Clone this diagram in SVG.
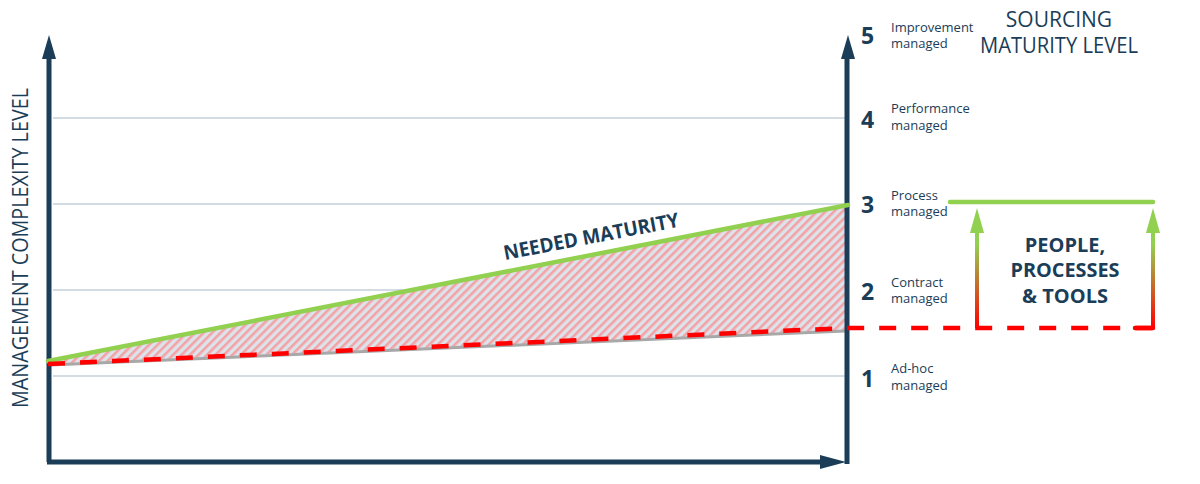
<svg xmlns="http://www.w3.org/2000/svg" width="1200" height="484" viewBox="0 0 1200 484">
<style>
.ax{stroke:#1b3d57;stroke-width:5;fill:none}
.ah{fill:#1b3d57}
.grid{stroke:#a9b9c7;stroke-width:1.2}
.t{font-family:"Open Sans","Liberation Sans",sans-serif;fill:#1b3d57}
.num{font-size:23px;font-weight:bold}
.lbl{font-size:13px}
.big{font-size:21px}
.bold{font-size:20px;font-weight:bold}
</style>
<defs>
<pattern id="hatch" width="6" height="6" patternUnits="userSpaceOnUse" patternTransform="rotate(45)">
<rect width="6" height="6" fill="#dde3ea"/>
<rect width="2.6" height="6" fill="#f3a2a6"/>
</pattern>
<linearGradient id="grad" gradientUnits="userSpaceOnUse" x1="0" y1="328" x2="0" y2="245">
<stop offset="0" stop-color="#ff0000"/>
<stop offset="1" stop-color="#92d050"/>
</linearGradient>
</defs>
<rect width="1200" height="484" fill="#ffffff"/>
<g id="grid">
<line class="grid" x1="53" y1="118" x2="845" y2="118"/>
<line class="grid" x1="53" y1="204" x2="845" y2="204"/>
<line class="grid" x1="53" y1="290" x2="845" y2="290"/>
<line class="grid" x1="53" y1="376" x2="845" y2="376"/>
</g>
<g id="gap-area">
<polygon points="50,361 846,206 846,330 50,364" fill="url(#hatch)"/>
<line x1="50" y1="365" x2="846" y2="331" stroke="#a8a8a8" stroke-width="3"/>
</g>
<g id="connectors">
<line x1="49" y1="57" x2="49" y2="462" class="ax"/>
<polygon class="ah" points="49,35 56,59 42,59"/>
<line x1="47" y1="462" x2="822" y2="462" class="ax"/>
<polygon class="ah" points="846,462 820,455 820,469"/>
<line x1="847" y1="57" x2="847" y2="464" class="ax"/>
<polygon class="ah" points="848,35 855,59 841,59"/>
<line x1="48" y1="361" x2="848" y2="205" stroke="#92d050" stroke-width="4.5" stroke-linecap="round"/>
<path d="M48,364 L847,328 L1153,328" fill="none" stroke="#ff0000" stroke-width="4.5" stroke-dasharray="17 15"/>
<line x1="1135" y1="328" x2="1153" y2="328" stroke="#ff0000" stroke-width="4.5" stroke-linecap="round"/>
<line x1="950" y1="202" x2="1153" y2="202" stroke="#92d050" stroke-width="4.5" stroke-linecap="round"/>
<path d="M977,231 L977,328" fill="none" stroke="url(#grad)" stroke-width="4"/>
<polygon points="977,208 984,233 970,233" fill="#92d050"/>
<path d="M1153,231 L1153,328" fill="none" stroke="url(#grad)" stroke-width="4"/>
<polygon points="1153,208 1160,233 1146,233" fill="#92d050"/>
</g>
<g id="y-axis-label">
<text class="t" transform="translate(28,408) rotate(-90)" font-size="21" textLength="320" lengthAdjust="spacingAndGlyphs">MANAGEMENT COMPLEXITY LEVEL</text>
</g>
<g id="title">
<text class="t big" x="1059" y="27" text-anchor="middle">SOURCING</text>
<text class="t big" x="1059" y="53" text-anchor="middle" textLength="158" lengthAdjust="spacingAndGlyphs">MATURITY LEVEL</text>
</g>
<g id="level5">
<text class="t num" x="861" y="44">5</text>
<text class="t lbl" x="891" y="32">Improvement</text>
<text class="t lbl" x="891" y="48">managed</text>
</g>
<g id="level4">
<text class="t num" x="861" y="128">4</text>
<text class="t lbl" x="891" y="113">Performance</text>
<text class="t lbl" x="891" y="130">managed</text>
</g>
<g id="level3">
<text class="t num" x="861" y="213">3</text>
<text class="t lbl" x="891" y="200">Process</text>
<text class="t lbl" x="891" y="216">managed</text>
</g>
<g id="level2">
<text class="t num" x="861" y="300">2</text>
<text class="t lbl" x="891" y="287">Contract</text>
<text class="t lbl" x="891" y="303">managed</text>
</g>
<g id="level1">
<text class="t num" x="861" y="387">1</text>
<text class="t lbl" x="891" y="373">Ad-hoc</text>
<text class="t lbl" x="891" y="390">managed</text>
</g>
<g id="people-processes-tools">
<text class="t bold" x="1065" y="252" text-anchor="middle">PEOPLE,</text>
<text class="t bold" x="1065" y="277" text-anchor="middle" textLength="109" lengthAdjust="spacingAndGlyphs">PROCESSES</text>
<text class="t bold" x="1065" y="303" text-anchor="middle">&amp; TOOLS</text>
</g>
<g id="needed-maturity">
<text class="t bold" transform="translate(505,260) rotate(-10.8)" textLength="178" lengthAdjust="spacingAndGlyphs">NEEDED MATURITY</text>
</g>
</svg>
